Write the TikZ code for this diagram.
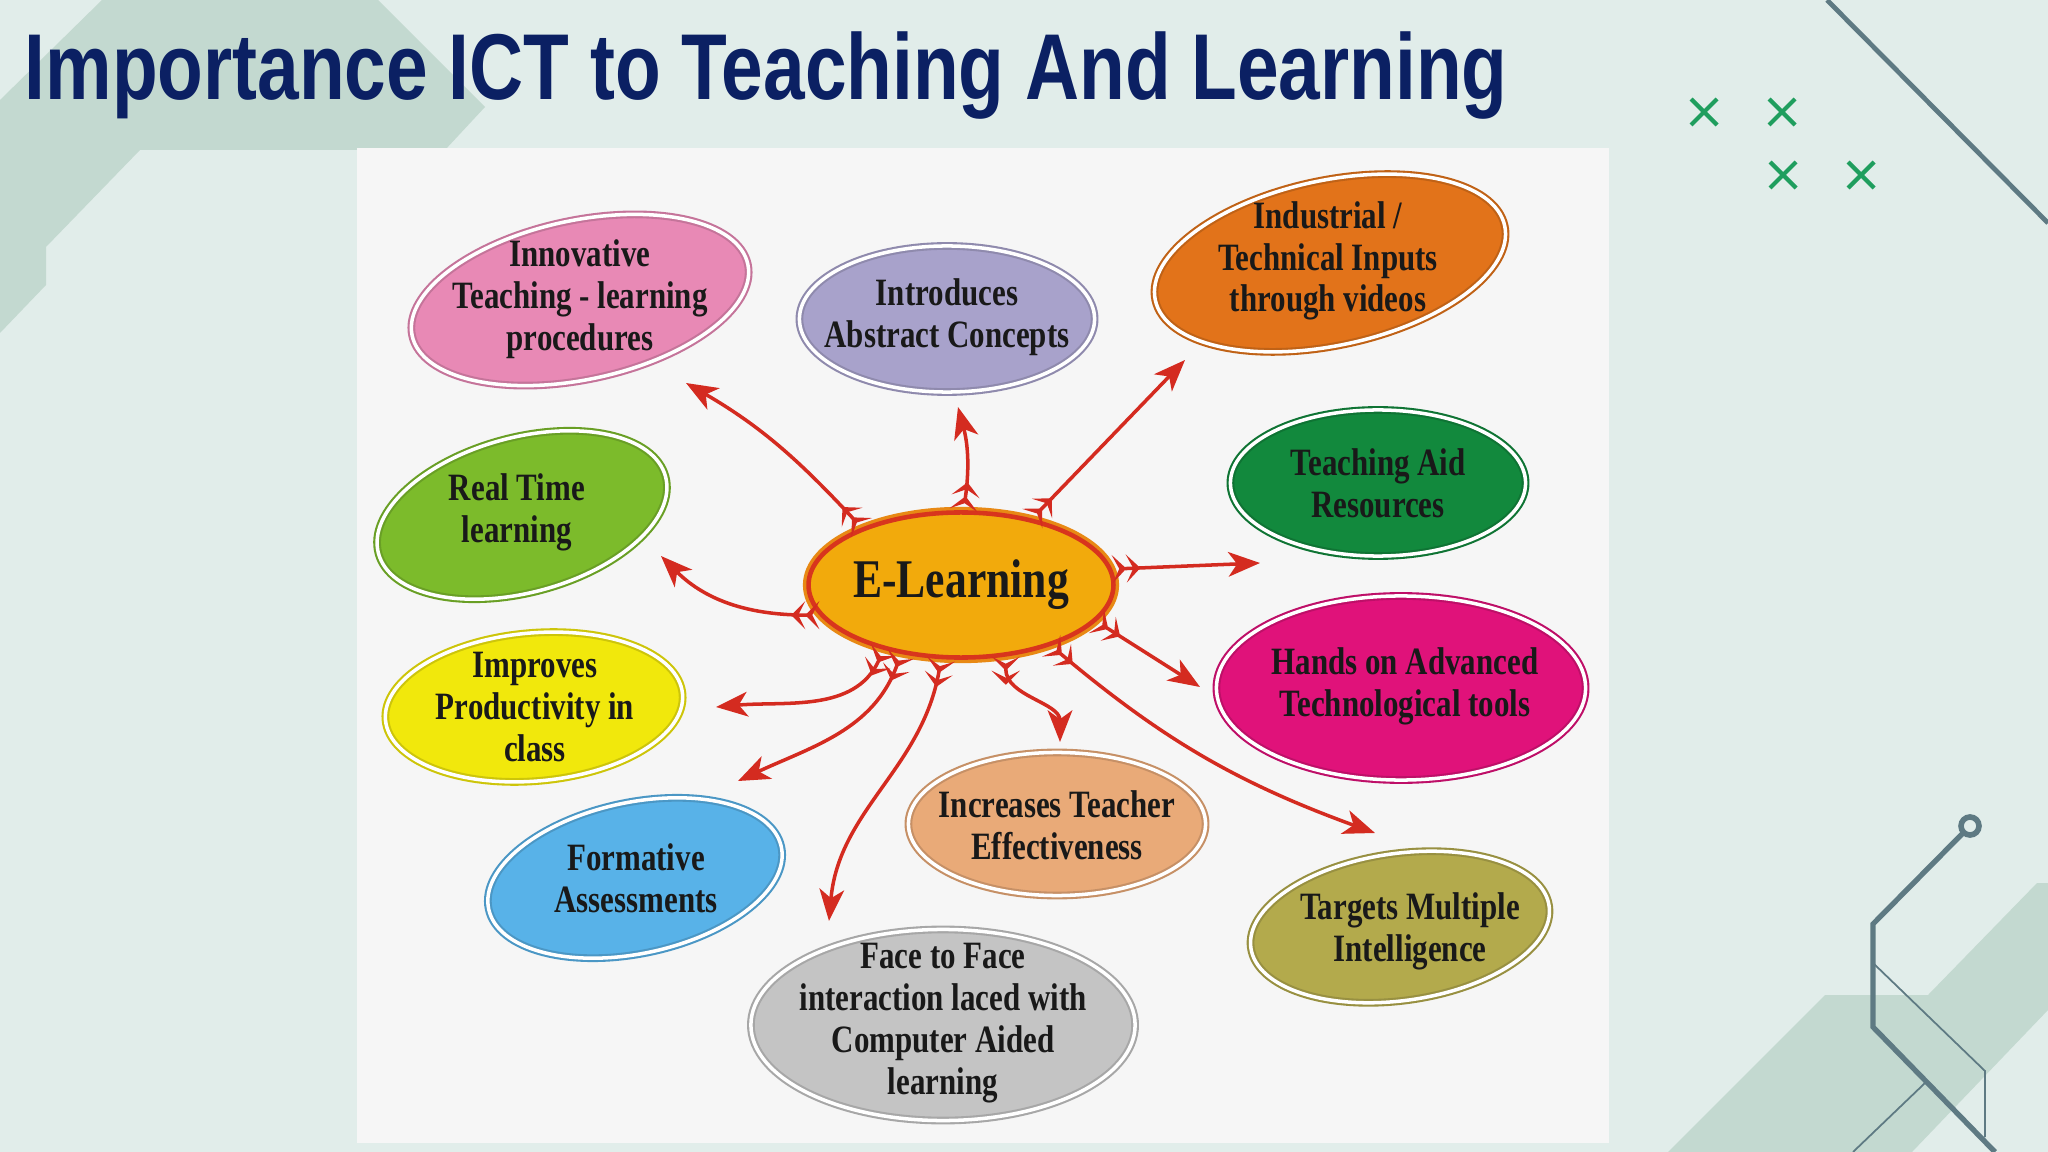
\documentclass[tikz,border=0pt]{standalone}
\usepackage{fontspec}
\usetikzlibrary{shapes.geometric,arrows.meta}
\newfontfamily\headfont{Liberation Sans}[FakeStretch=0.80]
\newfontfamily\bubblefont{Liberation Serif}[FakeStretch=0.8]

\definecolor{mint}{HTML}{E1EDEA}
\definecolor{band}{HTML}{C3D9D0}
\definecolor{board}{HTML}{F6F6F6}
\definecolor{navy}{HTML}{0B2063}
\definecolor{slate}{HTML}{5E7A83}
\definecolor{cross}{HTML}{1F9E5E}
\definecolor{spokered}{HTML}{D42B20}
\definecolor{pinkfill}{HTML}{E889B5}
\definecolor{lavfill}{HTML}{A8A2CB}
\definecolor{orafill}{HTML}{E2731A}
\definecolor{grnfill}{HTML}{12893D}
\definecolor{magfill}{HTML}{E0127A}
\definecolor{olvfill}{HTML}{B3AA4C}
\definecolor{pchfill}{HTML}{E9AA78}
\definecolor{gryfill}{HTML}{C4C4C4}
\definecolor{blufill}{HTML}{58B2E8}
\definecolor{ylwfill}{HTML}{F1E80C}
\definecolor{limfill}{HTML}{7CBB2B}
\definecolor{corefill}{HTML}{F2AA0C}
\definecolor{corerim}{HTML}{D8351D}

\begin{document}
\begin{tikzpicture}[x=0.01cm,y=0.01cm,
  bubble/.style={ellipse,inner sep=0pt,line width=0.6pt,double=white,double distance=1pt},
  lbl/.style={font=\bubblefont\bfseries\fontsize{11}{11.9}\selectfont,align=center,text=black!90},
  spoke/.style={draw=spokered,line width=1pt,
    {Stealth[reversed,length=4pt,width=8pt,inset=2pt]Stealth[reversed,length=4pt,width=8pt,inset=2pt]}-{Stealth[length=9pt,width=7pt,inset=2.5pt]}},
  xmark/.style={draw=cross,line width=1.2pt}]
%\draw[help lines] (0,0) grid[step=100] (2048,-1152);
\useasboundingbox (0,0) rectangle (2048,-1152);
\fill[mint] (0,0) rectangle (2048,-1152);
\fill[band] (102,0) -- (378,0) -- (485,-107) -- (445,-150) -- (140,-150) -- (46,-247)
  -- (46,-285) -- (0,-333) -- (0,-100) -- cycle;
\fill[band] (1668,-1152) -- (1825,-995) -- (1928,-995) -- (2037,-883) -- (2048,-883)
  -- (2048,-1010) -- (1912,-1152) -- cycle;
\draw[slate,line width=1.35pt] (1827,0) -- (2048,-223);
\foreach \cx/\cy in {1704/112,1782/112,1783/175,1861/175}
  \draw[xmark] (\cx-13,-\cy-13) -- (\cx+13,-\cy+13) (\cx-13,-\cy+13) -- (\cx+13,-\cy-13);
\draw[slate,line width=1.6pt] (1970,-826) circle (9);
\draw[slate,line width=1.5pt] (1963,-833) -- (1873,-924) -- (1873,-1027) -- (1995,-1152);
\draw[slate,line width=0.5pt] (1873,-963) -- (1985,-1071) -- (1985,-1137);
\draw[slate,line width=0.5pt] (1925,-1083) -- (1853,-1152);
\fill[board] (357,-148) rectangle (1609,-1143);

\node (title) [anchor=base west,inner sep=0pt,text=navy,
  font=\headfont\bfseries\fontsize{26.6}{30}\selectfont] at (24,-100)
  {Importance ICT to Teaching And Learning};

\path
(580,-300) node(innov) [bubble,draw=pinkfill!85!black,fill=pinkfill,minimum width=3.43cm,minimum height=1.59cm,rotate=12] {}
(947,-319) node(abstr) [bubble,draw=lavfill!85!black,fill=lavfill,minimum width=2.95cm,minimum height=1.46cm] {}
(1330,-263) node(indus) [bubble,draw=orafill!85!black,fill=orafill,minimum width=3.57cm,minimum height=1.65cm,rotate=12] {}
(1378,-483) node(aid) [bubble,draw=grnfill!85!black,fill=grnfill,minimum width=2.95cm,minimum height=1.46cm] {}
(1401,-688) node(hands) [bubble,draw=magfill!85!black,fill=magfill,minimum width=3.69cm,minimum height=1.84cm] {}
(1400,-927) node(multi) [bubble,draw=olvfill!85!black,fill=olvfill,minimum width=3.01cm,minimum height=1.47cm,rotate=8] {}
(1057,-824) node(effect) [bubble,draw=pchfill!85!black,fill=pchfill,minimum width=2.97cm,minimum height=1.43cm] {}
(943,-1025) node(face) [bubble,draw=gryfill!85!black,fill=gryfill,minimum width=3.84cm,minimum height=1.91cm] {}
(635,-878) node(forma) [bubble,draw=blufill!85!black,fill=blufill,minimum width=2.99cm,minimum height=1.51cm,rotate=12] {}
(534,-707) node(produ) [bubble,draw=ylwfill!85!black,fill=ylwfill,minimum width=2.98cm,minimum height=1.48cm,rotate=5] {}
(522,-515) node(realt) [bubble,draw=limfill!85!black,fill=limfill,minimum width=2.97cm,minimum height=1.55cm,rotate=15] {};

\path
(580,-299) node(innovtxt) [lbl] {Innovative\\Teaching - learning\\procedures}
(947,-317) node(abstrtxt) [lbl] {Introduces\\Abstract Concepts}
(1328,-261) node(industxt) [lbl] {Industrial /\\Technical Inputs\\through videos}
(1378,-483) node(aidtxt) [lbl] {Teaching Aid\\Resources}
(1405,-686) node(handstxt) [lbl] {Hands on Advanced\\Technological tools}
(1410,-931) node(multitxt) [lbl] {Targets Multiple\\Intelligence}
(1057,-825) node(effecttxt) [lbl] {Increases Teacher\\Effectiveness}
(943,-1023) node(facetxt) [lbl] {Face to Face\\interaction laced with\\Computer Aided\\learning}
(636,-878) node(formatxt) [lbl] {Formative\\Assessments}
(535,-707) node(produtxt) [lbl] {Improves\\Productivity in\\class}
(517,-512) node(realttxt) [lbl] {Real Time\\learning};

\node(el) [ellipse,inner sep=0pt,minimum width=2.98cm,minimum height=1.45cm,fill=corefill,
  draw=corerim,line width=1.3pt,preaction={draw=orafill!60!corefill,line width=3.2pt},
  font=\bubblefont\bfseries\fontsize{15.5}{17}\selectfont,text=black!90] at (961,-585) {E-Learning};

\coordinate (t1) at (686,-383);
\coordinate (t2) at (958,-407);
\coordinate (t3) at (1185,-360);
\coordinate (t4) at (1260,-563);
\coordinate (t5) at (1200,-687);
\coordinate (t6) at (1375,-833);
\coordinate (t7) at (1060,-742);
\coordinate (t8) at (829,-921);
\coordinate (t9) at (738,-781);
\coordinate (t10) at (716,-707);
\coordinate (t11) at (661,-556);

\draw[spoke] (el.150) to[out=133,in=-30] (t1);
\draw[spoke] (el.88) to[out=82,in=-75] (t2);
\draw[spoke] (el.43) -- (t3);
\draw[spoke] (el.6) -- (t4);
\draw[spoke] (el.-15) -- (t5);
\draw[spoke] (el.-34) to[out=-40,in=160] (t6);
\draw[spoke] (el.-58) to[out=-90,in=90] (t7);
\draw[spoke] (el.-105) to[out=-100,in=85] (t8);
\draw[spoke] (el.-131) to[out=-110,in=25] (t9);
\draw[spoke] (el.-140) to[out=-115,in=5] (t10);
\draw[spoke] (el.192) to[out=180,in=-45] (t11);
\end{tikzpicture}
\end{document}
